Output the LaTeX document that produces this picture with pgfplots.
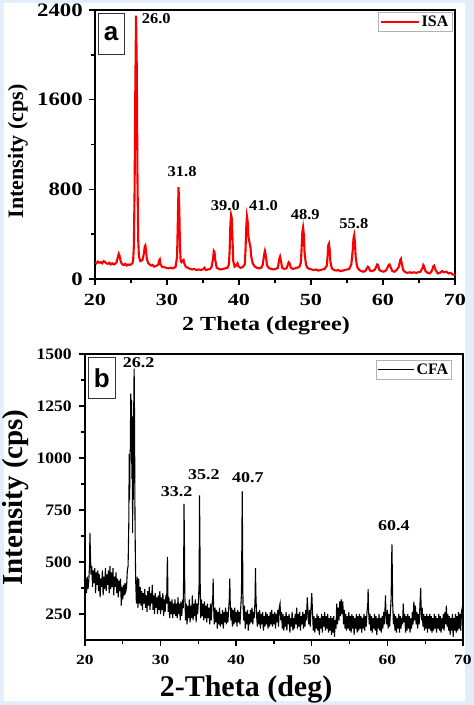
\documentclass[border=0pt]{standalone}
\usepackage{fontspec}
\setmainfont{Liberation Serif}
\newfontfamily\arialfont{Liberation Sans}
\usepackage{pgfplots}
\pgfplotsset{compat=1.18}
\definecolor{bgblue}{RGB}{228,238,250}
\definecolor{isared}{RGB}{250,0,0}
\pgfplotsset{myax/.style={
  scale only axis, anchor=south west,
  axis line style={line width=1.6pt},
  tick pos=left, tick align=inside,
  major tick length=-6pt, minor tick length=-4pt,
  tick style={draw=black, line width=1.4pt},
  minor x tick num=1, minor y tick num=1,
  /pgf/number format/assume math mode=true,
  scaled y ticks=false,
  yticklabel style={/pgf/number format/1000 sep={}},
  xmin=20, xmax=70, xtick={20,30,...,70},
  legend cell align=left,
}}
\begin{document}
\begin{tikzpicture}
\fill[bgblue] (0pt,0pt) rectangle (474pt,705pt);
\fill[white] (4pt,4pt) rectangle (465pt,702pt);
\useasboundingbox (0pt,0pt) rectangle (474pt,705pt);
% ---------------- panel a ----------------
\begin{axis}[myax, at={(95pt,426pt)}, width=360pt, height=269pt,
  ymin=0, ymax=2400, ytick={0,800,1600,2400},
  xticklabel style={font=\fontsize{17}{17}\selectfont\bfseries, inner sep=0pt, anchor=north, yshift=-15pt, xscale=1.3},
  yticklabel style={font=\fontsize{19}{19}\selectfont\bfseries, inner sep=0pt, anchor=east, xshift=-12pt, xscale=1.2},
  xlabel={2 Theta (degree)},
  xlabel style={font=\fontsize{20}{20}\selectfont\bfseries, inner sep=0pt, at={(axis description cs:0.475,-0.175)}, anchor=center, xscale=1.2},
  ylabel={Intensity (cps)},
  ylabel style={font=\fontsize{22}{22}\selectfont\bfseries, inner sep=0pt, at={(axis description cs:-0.214,0.474)}, anchor=center},
  legend style={at={(axis description cs:0.992,0.993)}, anchor=north east, draw=gray!60, line width=0.6pt,
    inner sep=1.5pt, font=\fontsize{16}{16}\selectfont\bfseries},
  legend image code/.code={\draw[#1] (0pt,0pt) -- (38pt,0pt);},
]
\addplot[isared, line width=2.1pt] coordinates {
(20.0,150)(20.2,140)(20.4,155)(20.6,145)(20.8,150)(21.0,140)(21.2,160)(21.4,150)(21.6,140)(21.8,135)
(22.0,145)(22.2,130)(22.4,140)(22.6,130)(22.8,135)(23.0,150)(23.2,200)(23.3,225)(23.4,210)(23.6,150)
(23.8,130)(24.0,125)(24.2,135)(24.4,120)(24.6,130)(24.8,125)(25.0,130)(25.2,140)(25.3,170)(25.4,300)
(25.5,800)(25.6,1700)(25.7,2350)(25.8,1900)(25.9,900)(26.0,350)(26.1,200)(26.3,160)(26.6,170)(26.8,230)
(26.9,290)(27.0,300)(27.1,250)(27.2,180)(27.4,140)(27.6,130)(27.8,120)(28.0,125)(28.2,110)(28.4,115)
(28.6,120)(28.8,130)(28.9,165)(29.0,175)(29.1,130)(29.3,110)(29.6,105)(29.9,100)(30.2,95)(30.5,100)
(30.8,95)(31.0,100)(31.2,110)(31.4,200)(31.5,500)(31.6,820)(31.7,650)(31.8,300)(31.9,160)(32.0,150)
(32.2,165)(32.3,170)(32.4,140)(32.6,110)(32.9,100)(33.2,90)(33.5,85)(33.8,90)(34.1,80)(34.4,85)
(34.7,80)(35.0,85)(35.2,100)(35.4,80)(35.7,85)(36.0,90)(36.2,110)(36.4,180)(36.5,250)(36.6,240)
(36.7,170)(36.9,100)(37.2,90)(37.5,85)(37.8,90)(38.1,95)(38.4,100)(38.6,130)(38.7,250)(38.8,480)
(38.9,570)(39.0,540)(39.1,350)(39.2,160)(39.4,110)(39.6,120)(39.8,140)(39.9,115)(40.2,100)(40.5,105)
(40.8,130)(40.9,250)(41.0,450)(41.1,560)(41.2,520)(41.3,380)(41.5,310)(41.6,280)(41.7,200)(41.9,140)
(42.2,110)(42.5,100)(42.8,95)(43.1,100)(43.3,130)(43.5,220)(43.6,250)(43.7,220)(43.9,120)(44.2,95)
(44.5,90)(44.8,85)(45.1,90)(45.4,100)(45.6,180)(45.7,200)(45.8,170)(46.0,100)(46.3,90)(46.6,95)
(46.8,130)(46.9,150)(47.0,145)(47.2,100)(47.5,90)(47.8,95)(48.1,100)(48.4,110)(48.6,150)(48.7,280)
(48.8,420)(48.9,460)(49.0,400)(49.1,240)(49.3,130)(49.5,100)(49.8,90)(50.1,85)(50.4,80)(50.7,85)
(51.0,75)(51.3,80)(51.6,85)(51.9,90)(52.2,120)(52.3,200)(52.4,300)(52.5,315)(52.6,260)(52.7,150)
(52.9,95)(53.2,80)(53.5,75)(53.8,80)(54.1,70)(54.4,75)(54.7,80)(55.0,85)(55.3,90)(55.6,130)
(55.8,260)(55.9,360)(56.0,390)(56.1,330)(56.2,200)(56.4,110)(56.7,80)(57.0,70)(57.3,65)(57.6,75)
(57.8,100)(57.9,110)(58.0,105)(58.2,75)(58.5,70)(58.8,80)(59.0,100)(59.2,130)(59.3,125)(59.5,80)
(59.8,70)(60.1,65)(60.4,75)(60.6,100)(60.8,125)(60.9,130)(61.1,100)(61.3,70)(61.6,65)(61.9,80)
(62.2,110)(62.4,170)(62.5,180)(62.6,140)(62.8,80)(63.1,60)(63.4,55)(63.7,60)(64.0,55)(64.3,60)
(64.6,55)(64.9,60)(65.2,65)(65.5,100)(65.6,125)(65.7,115)(65.9,70)(66.2,55)(66.5,50)(66.8,75)
(67.0,115)(67.1,120)(67.3,80)(67.6,50)(67.9,55)(68.2,70)(68.5,60)(68.8,65)(69.1,50)(69.4,55)
(69.7,40)(70.0,35)
};
\addlegendentry{ISA}
\node[draw=black!80, line width=0.7pt, minimum width=26pt, minimum height=41pt, inner sep=0pt,
  anchor=north west, font=\arialfont\bfseries\fontsize{26}{26}\selectfont] at (rel axis cs:0.008,0.989) {a};
\begin{scope}[every node/.style={font=\fontsize{15}{15}\selectfont\bfseries, anchor=base, xscale=1.1}]
\node at (axis cs:28.5,2281) {26.0};
\node at (axis cs:32.1,911) {31.8};
\node at (axis cs:38.1,613) {39.0};
\node at (axis cs:43.4,613) {41.0};
\node at (axis cs:49.2,533) {48.9};
\node at (axis cs:55.95,450) {55.8};
\end{scope}
\end{axis}
% ---------------- panel b ----------------
\begin{axis}[myax, at={(85pt,65pt)}, width=378pt, height=286pt,
  ymin=125, ymax=1500, ytick={250,500,...,1500},
  xticklabel style={font=\fontsize{14}{14}\selectfont\bfseries, inner sep=0pt, anchor=north, yshift=-15pt, xscale=1.25},
  yticklabel style={font=\fontsize{16}{16}\selectfont\bfseries, inner sep=0pt, anchor=east, xshift=-13pt, xscale=1.1},
  xlabel={2-Theta (deg)},
  xlabel style={font=\fontsize{30}{30}\selectfont\bfseries, inner sep=0pt, at={(axis description cs:0.426,-0.172)}, anchor=center},
  ylabel={Intensity (cps)},
  ylabel style={font=\fontsize{29}{29}\selectfont\bfseries, inner sep=0pt, at={(axis description cs:-0.185,0.498)}, anchor=center},
  legend style={at={(axis description cs:0.971,0.979)}, anchor=north east, draw=gray!60, line width=0.6pt,
    inner sep=1.5pt, font=\fontsize{16}{16}\selectfont\bfseries},
  legend image code/.code={\draw[#1] (0pt,0pt) -- (36pt,0pt);},
]
\addplot[black, line width=1.1pt] coordinates {
(20.0,380)(20.1,420)(20.2,350)(20.3,430)(20.4,370)(20.5,410)(20.6,480)(20.65,640)(20.7,560)(20.8,440)
(20.9,480)(21.0,380)(21.1,460)(21.2,400)(21.3,470)(21.4,350)(21.5,450)(21.6,390)(21.7,460)(21.8,360)
(21.9,440)(22.0,330)(22.1,420)(22.2,380)(22.3,460)(22.4,340)(22.5,430)(22.6,370)(22.7,470)(22.8,360)
(22.9,440)(23.0,390)(23.1,460)(23.2,350)(23.3,480)(23.4,370)(23.5,450)(23.6,380)(23.7,470)(23.8,340)
(23.9,430)(24.0,380)(24.1,450)(24.2,350)(24.3,420)(24.4,330)(24.5,410)(24.6,360)(24.7,420)(24.8,290)
(24.9,380)(25.0,320)(25.1,390)(25.2,340)(25.3,400)(25.4,360)(25.5,380)(25.6,460)(25.7,480)(25.8,700)
(25.85,1020)(25.9,800)(25.95,1000)(26.0,1050)(26.05,1310)(26.1,1100)(26.15,1280)(26.2,900)(26.25,1200)(26.3,640)
(26.35,1100)(26.4,800)(26.45,1250)(26.5,1430)(26.55,1200)(26.6,800)(26.65,560)(26.7,420)(26.8,300)(26.9,430)
(27.0,280)(27.1,420)(27.2,300)(27.3,380)(27.4,290)(27.5,360)(27.6,270)(27.7,350)(27.8,300)(27.9,370)
(28.0,280)(28.1,340)(28.2,260)(28.3,360)(28.4,290)(28.5,380)(28.6,270)(28.7,350)(28.8,300)(28.9,390)
(29.0,270)(29.1,340)(29.2,250)(29.3,350)(29.4,280)(29.5,330)(29.6,250)(29.7,340)(29.8,270)(29.9,360)
(30.0,250)(30.1,330)(30.2,270)(30.3,350)(30.4,240)(30.5,320)(30.6,260)(30.7,340)(30.8,300)(30.85,420)
(30.9,525)(30.95,400)(31.0,260)(31.1,330)(31.2,230)(31.3,310)(31.4,250)(31.5,320)(31.6,230)(31.7,300)
(31.8,250)(31.9,320)(32.0,240)(32.1,300)(32.2,230)(32.3,330)(32.4,250)(32.5,300)(32.6,220)(32.7,310)
(32.8,240)(32.9,300)(33.0,280)(33.05,450)(33.1,780)(33.15,600)(33.2,350)(33.3,220)(33.4,300)(33.5,200)
(33.6,290)(33.7,230)(33.8,320)(33.9,210)(34.0,290)(34.1,230)(34.2,340)(34.3,220)(34.4,300)(34.5,240)
(34.6,320)(34.7,210)(34.8,300)(34.9,250)(35.0,310)(35.1,400)(35.15,820)(35.2,600)(35.25,330)(35.3,230)
(35.4,320)(35.5,240)(35.6,300)(35.7,220)(35.8,310)(35.9,230)(36.0,290)(36.1,210)(36.2,300)(36.3,230)
(36.4,280)(36.5,200)(36.6,300)(36.7,220)(36.8,290)(36.9,330)(36.95,420)(37.0,300)(37.1,200)(37.2,280)
(37.3,210)(37.4,270)(37.5,180)(37.6,260)(37.7,200)(37.8,280)(37.9,190)(38.0,250)(38.1,200)(38.2,270)
(38.3,180)(38.4,260)(38.5,210)(38.6,280)(38.7,200)(38.8,260)(38.9,210)(39.0,270)(39.1,330)(39.15,420)
(39.2,320)(39.3,220)(39.4,280)(39.5,190)(39.6,270)(39.7,200)(39.8,280)(39.9,210)(40.0,260)(40.1,190)
(40.2,270)(40.3,210)(40.4,260)(40.5,200)(40.6,280)(40.7,350)(40.75,600)(40.8,840)(40.85,550)(40.9,300)
(41.0,220)(41.1,290)(41.2,180)(41.3,260)(41.4,200)(41.5,270)(41.6,170)(41.7,250)(41.8,200)(41.9,270)
(42.0,210)(42.1,280)(42.2,200)(42.3,260)(42.4,230)(42.5,330)(42.55,470)(42.6,350)(42.7,240)(42.8,190)
(42.9,260)(43.0,200)(43.1,270)(43.2,180)(43.3,250)(43.4,200)(43.5,260)(43.6,170)(43.7,240)(43.8,190)
(43.9,260)(44.0,200)(44.1,250)(44.2,180)(44.3,240)(44.4,190)(44.5,260)(44.6,200)(44.7,270)(44.8,190)
(44.9,250)(45.0,200)(45.1,260)(45.2,180)(45.3,250)(45.4,210)(45.5,270)(45.6,190)(45.7,280)(45.8,300)
(45.9,220)(46.0,260)(46.1,180)(46.2,250)(46.3,170)(46.4,240)(46.5,190)(46.6,260)(46.7,170)(46.8,240)
(46.9,200)(47.0,250)(47.1,160)(47.2,230)(47.3,190)(47.4,260)(47.5,170)(47.6,230)(47.7,180)(47.8,250)
(47.9,200)(48.0,280)(48.1,180)(48.2,250)(48.3,190)(48.4,260)(48.5,170)(48.6,240)(48.7,200)(48.8,260)
(48.9,180)(49.0,250)(49.1,190)(49.2,270)(49.3,220)(49.4,330)(49.5,250)(49.6,200)(49.7,270)(49.8,190)
(49.9,280)(50.0,350)(50.1,250)(50.2,170)(50.3,240)(50.4,160)(50.5,230)(50.6,180)(50.7,250)(50.8,170)
(50.9,240)(51.0,150)(51.1,230)(51.2,180)(51.3,250)(51.4,160)(51.5,240)(51.6,190)(51.7,260)(51.8,170)
(51.9,240)(52.0,180)(52.1,250)(52.2,160)(52.3,230)(52.4,170)(52.5,240)(52.6,150)(52.7,230)(52.8,160)
(52.9,240)(53.0,140)(53.1,220)(53.2,180)(53.3,300)(53.4,200)(53.5,280)(53.6,220)(53.7,310)(53.8,240)
(53.9,320)(54.0,250)(54.1,310)(54.2,200)(54.3,270)(54.4,180)(54.5,250)(54.6,170)(54.7,240)(54.8,180)
(54.9,260)(55.0,170)(55.1,240)(55.2,160)(55.3,250)(55.4,180)(55.5,240)(55.6,150)(55.7,230)(55.8,180)
(55.9,250)(56.0,160)(56.1,240)(56.2,170)(56.3,250)(56.4,180)(56.5,240)(56.6,160)(56.7,230)(56.8,180)
(56.9,250)(57.0,170)(57.1,240)(57.2,190)(57.3,260)(57.4,290)(57.45,370)(57.5,280)(57.6,200)(57.7,250)
(57.8,170)(57.9,240)(58.0,160)(58.1,230)(58.2,180)(58.3,250)(58.4,170)(58.5,240)(58.6,150)(58.7,230)
(58.8,180)(58.9,250)(59.0,170)(59.1,230)(59.2,160)(59.3,240)(59.4,180)(59.5,260)(59.6,200)(59.7,290)
(59.75,340)(59.8,260)(59.9,200)(60.0,270)(60.1,180)(60.2,250)(60.3,190)(60.4,260)(60.5,330)(60.55,480)
(60.6,585)(60.65,450)(60.7,300)(60.8,200)(60.9,250)(61.0,170)(61.1,240)(61.2,160)(61.3,230)(61.4,180)
(61.5,250)(61.6,160)(61.7,240)(61.8,180)(61.9,230)(62.0,200)(62.1,300)(62.2,210)(62.3,250)(62.4,160)
(62.5,240)(62.6,170)(62.7,250)(62.8,180)(62.9,240)(63.0,160)(63.1,230)(63.2,180)(63.3,260)(63.4,200)
(63.5,310)(63.6,220)(63.7,290)(63.8,200)(63.9,260)(64.0,180)(64.1,250)(64.2,200)(64.3,290)(64.4,375)
(64.45,300)(64.5,220)(64.6,280)(64.7,190)(64.8,250)(64.9,170)(65.0,240)(65.1,180)(65.2,250)(65.3,160)
(65.4,240)(65.5,180)(65.6,250)(65.7,170)(65.8,240)(65.9,160)(66.0,230)(66.1,170)(66.2,250)(66.3,180)
(66.4,240)(66.5,160)(66.6,230)(66.7,180)(66.8,250)(66.9,170)(67.0,240)(67.1,160)(67.2,230)(67.3,180)
(67.4,250)(67.5,170)(67.6,260)(67.7,200)(67.8,290)(67.9,190)(68.0,250)(68.1,170)(68.2,240)(68.3,150)
(68.4,230)(68.5,170)(68.6,250)(68.7,140)(68.8,230)(68.9,170)(69.0,250)(69.1,160)(69.2,240)(69.3,170)
(69.4,260)(69.5,180)(69.6,250)(69.7,170)(69.8,260)(69.9,280)(70.0,220)
};
\addlegendentry{CFA}
\node[draw=black!80, line width=0.7pt, minimum width=27pt, minimum height=41pt, inner sep=0pt,
  anchor=north west, font=\arialfont\bfseries\fontsize{26}{26}\selectfont] at (rel axis cs:0.008,0.9895) {b};
\begin{scope}[every node/.style={font=\fontsize{15}{15}\selectfont\bfseries, anchor=base, xscale=1.2}]
\node at (axis cs:27.1,1437) {26.2};
\node at (axis cs:32.13,814) {33.2};
\node at (axis cs:35.74,899) {35.2};
\node at (axis cs:41.56,883) {40.7};
\node at (axis cs:60.87,650) {60.4};
\end{scope}
\end{axis}
\end{tikzpicture}
\end{document}
